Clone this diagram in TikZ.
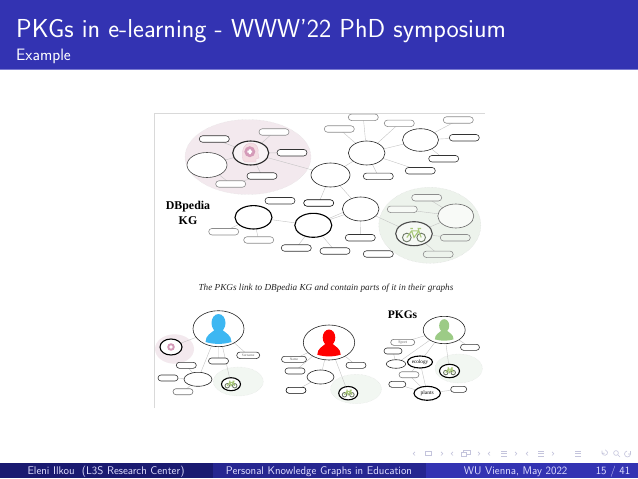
\documentclass[tikz,border=0pt]{standalone}
\usetikzlibrary{shapes.misc,shapes.geometric}
\usepackage{fontspec}
\setmainfont{Liberation Serif}
\setsansfont{Latin Modern Sans}
\definecolor{hdr}{HTML}{3333B2}
\definecolor{hdrl}{HTML}{7A7AD0}
\definecolor{ftl}{HTML}{1A1A70}
\definecolor{ftm}{HTML}{262690}
\definecolor{pinkbg}{HTML}{F3E9EE}
\definecolor{greenbg}{HTML}{EDF3EC}
\definecolor{edgegr}{HTML}{C4C4C4}
\definecolor{navc}{HTML}{C4C4DC}
\definecolor{bikew}{HTML}{6F7A68}
\definecolor{bikef}{HTML}{A8C878}
\definecolor{ublue}{HTML}{3DB7F2}
\definecolor{ugreen}{HTML}{9CCB86}
\definecolor{iconp}{HTML}{D49AB8}
\definecolor{iconh}{HTML}{F4DDE2}
\tikzset{
 x=1pt,y=-1pt,
 pill/.style={rounded rectangle,draw=black!80,line width=.6pt,fill=white,minimum width=30pt,minimum height=6.5pt,inner sep=0pt},
 pilll/.style={pill,draw=black!45},
 spill/.style={pill,minimum width=20pt,minimum height=6pt},
 ell/.style={ellipse,draw=black!85,line width=.6pt,fill=white,inner sep=0pt},
 ellb/.style={ell,draw=black,line width=1.1pt},
 edg/.style={draw=edgegr,line width=.4pt},
 hd/.style={font=\sffamily,text=white,anchor=base west,inner sep=0pt},
 ft/.style={font=\sffamily\fontsize{11.1}{13}\selectfont,text=white!88!blue,anchor=base,inner sep=0pt},
 navi/.style={draw=navc,line width=.6pt,fill=none}
}
\newcommand{\bike}[3]{\begin{scope}[shift={(#1,#2)},scale=#3]
 \draw[bikew,line width=.9pt] (-6,2.5) circle (3.6); \draw[bikew,line width=.9pt] (6,2.5) circle (3.6);
 \draw[bikef,line width=1.1pt] (-6,2.5)--(-2,-3)--(4,-3)--(6,2.5) (-2,-3)--(0,2.5)--(4,-3) (-3,-5)--(-1,-5) (4,-3)--(3.5,-5)--(6,-5);
\end{scope}}
\newcommand{\person}[5]{\begin{scope}[shift={(#1,#2)},xscale=#3,yscale=#4]
 \fill[#5] (0,-6) ellipse (7 and 9);
 \fill[#5] (-13,13) .. controls (-13,6) and (-7,4) .. (-4,1) -- (4,1) .. controls (7,4) and (13,6) .. (13,13) .. controls (5,15.5) and (-5,15.5) .. (-13,13) -- cycle;
\end{scope}}
\begin{document}
\begin{tikzpicture}
\useasboundingbox (0,0) rectangle (638,479);
\fill[white] (0,0) rectangle (638,479);
% header
\fill[hdr] (0,0) rectangle (638,68.5);
\fill[hdrl] (0,68.5) rectangle (638,69.5);
\node[hd,font=\sffamily\fontsize{26}{28}\selectfont] (title) at (16,37) {PKGs in e-learning - WWW'22 PhD symposium};
\node[hd,font=\sffamily\fontsize{16.5}{18}\selectfont] (sub) at (16,60) {Example};
% figure frame
\draw[black!15,line width=.6pt] (154,408) -- (154,113) -- (485,113);
% backgrounds
\node[ellipse,fill=pinkbg,draw=black!12,densely dotted,minimum width=126pt,minimum height=75pt,inner sep=0pt] (pinkA) at (248,157) {};
\node[ellipse,fill=greenbg,draw=black!15,densely dotted,minimum width=102pt,minimum height=76pt,inner sep=0pt] (greenA) at (429.8,225.3) {};
\node[ellipse,fill=pinkbg,minimum width=39pt,minimum height=29.4pt,inner sep=0pt] (pinkB) at (174.5,349) {};
\node[ellipse,fill=greenbg!70!white,draw=black!12,densely dotted,minimum width=50pt,minimum height=29pt,inner sep=0pt] (greenB) at (238.3,381.5) {};
\node[ellipse,fill=greenbg!70!white,draw=black!12,densely dotted,minimum width=51pt,minimum height=29.4pt,inner sep=0pt] (greenC) at (356,389) {};
\node[ellipse,fill=greenbg!70!white,draw=black!12,densely dotted,minimum width=47.4pt,minimum height=29pt,inner sep=0pt] (greenD) at (458.7,368.5) {};
% coordinates of nodes (upper graph)
\coordinate (Ca) at (250.7,153); \coordinate (Cb) at (207,165);
\coordinate (Cc) at (330.5,175); \coordinate (Cd) at (366.7,153);
\coordinate (Ce) at (420.5,140); \coordinate (Cf) at (360.7,209);
\coordinate (Cg) at (253.5,217.3); \coordinate (Ch) at (313.3,225.3);
\coordinate (Ci) at (455.8,216); \coordinate (Cj) at (414,233.7);
% upper-graph edges
\path[edg] (Ca)--(214.3,139) (Ca)--(274,132) (Ca)--(292,152.7) (Ca)--(262,176) (Ca)--(Cb) (Ca)--(Cc)
 (262,176)--(230.7,184) (Cb)--(230.7,184)
 (Cc)--(Cd) (Cc)--(Cf) (Cd)--(363.3,117.3) (Cd)--(399.3,123.3) (Cd)--(339.3,129) (Cd)--(Ce) (Cd)--(420.3,170.7) (Cd)--(378.3,176.3)
 (Ce)--(458.3,120) (Ce)--(464.3,137.7) (Ce)--(443.7,158.7)
 (Cf)--(Ch) (Cf)--(360.3,237.7) (Cf)--(Cj) (318.7,203)--(Cc)
 (Cg)--(Ch) (Cg)--(223.7,231.7) (Cg)--(258.7,240) (Ch)--(296.3,248) (Ch)--(335,251) (Ch)--(360,205)
 (Ci)--(426.7,197.7) (Ci)--(402.3,209.3) (Ci)--(Cj) (Cj)--(455.3,237.7) (Cj)--(438.2,254.3);
% upper-graph nodes
\node[ellb,minimum width=36pt,minimum height=24pt,draw=black!85,fill=pinkbg!50!white] (a) at (Ca) {};
\fill[iconh,draw=iconp!60!white,line width=.3pt] (243,160) .. controls (241,150) and (244,143) .. (250.7,143) .. controls (257,143) and (259,149) .. (258,153) -- (259,158) -- (256,159) -- (256,162) -- (245,162) -- cycle;
\fill[iconp] (249.8,151.7) circle (5.5);
\fill[white] (248.8,149.3) rectangle (250.8,154.1) (247.4,150.7) rectangle (252.2,152.7);
\node[ell,minimum width=40pt,minimum height=25pt,draw=black!70] (b) at (Cb) {};
\node[pill] (p1) at (214.3,139) {};
\node[pilll] (p2) at (274,132) {};
\node[pill] (p3) at (292,152.7) {};
\node[pill] (p4) at (262,176) {};
\node[pilll] (p5) at (230.7,184) {};
\node[ell,minimum width=39pt,minimum height=24pt] (c) at (Cc) {};
\node[pill] (p6) at (280,200.7) {};
\node[pill,draw=black] (p7) at (318.7,203) {};
\node[ellb,minimum width=37pt,minimum height=23.4pt] (g) at (Cg) {};
\node[ellb,minimum width=37pt,minimum height=24pt] (h) at (Ch) {};
\node[pilll] (p8) at (223.7,231.7) {};
\node[pilll] (p9) at (258.7,240) {};
\node[pill] (p10) at (296.3,248) {};
\node[pill] (p11) at (335,251) {};
\node[pilll] (p12) at (363.3,117.3) {};
\node[pilll] (p13) at (399.3,123.3) {};
\node[pilll] (p14) at (339.3,129) {};
\node[pilll] (p15) at (458.3,120) {};
\node[pill] (p16) at (464.3,137.7) {};
\node[ell,minimum width=36pt,minimum height=22.6pt] (e) at (Ce) {};
\node[ell,minimum width=36.6pt,minimum height=24pt] (d) at (Cd) {};
\node[pill] (p17) at (443.7,158.7) {};
\node[pill] (p18) at (420.3,170.7) {};
\node[pill] (p19) at (378.3,176.3) {};
\node[ell,minimum width=36.6pt,minimum height=24pt] (f) at (Cf) {};
\node[pilll,fill=greenbg!50!white] (p20) at (426.7,197.7) {};
\node[pilll,fill=greenbg!50!white] (p21) at (402.3,209.3) {};
\node[ell,draw=black!60,fill=greenbg!40!white,minimum width=36pt,minimum height=24pt] (i) at (Ci) {};
\node[ell,draw=black!70,line width=1.1pt,fill=greenbg!50!white,minimum width=36.6pt,minimum height=24pt] (j) at (Cj) {};
\bike{414}{234.5}{1.2}
\node[pilll,fill=greenbg] (p22) at (455.3,237.7) {};
\node[pilll,fill=greenbg] (p23) at (438.2,254.3) {};
\node[pill] (p24) at (360.3,237.7) {};
\node[pill] (p25) at (378.3,254) {};
% texts
\node[font=\bfseries\fontsize{11.9}{15}\selectfont,align=center,inner sep=0pt] (dbp) at (188,212.5) {DBpedia\\KG};
\node[font=\itshape\fontsize{9.2}{11}\selectfont,inner sep=0pt,text=black!85] (cap) at (326,288.5) {The PKGs link to DBpedia KG and contain parts of it in their graphs};
\node[font=\bfseries\fontsize{11.5}{13}\selectfont,inner sep=0pt] (pk) at (402.5,315) {PKGs};
% PKG 1
\coordinate (U1) at (218.5,328.7); \coordinate (W1) at (198,379.3); \coordinate (K1) at (171,347); \coordinate (B1) at (231,384.2);
\path[edg] (U1)--(248.2,355.3) (U1)--(218.5,361) (U1)--(W1) (U1)--(B1) (U1)--(K1)
 (W1)--(186.3,365.3) (W1)--(168,378) (W1)--(183,391.7);
\node[ell,minimum width=51pt,minimum height=36pt] (u1) at (U1) {};
\person{218.5}{329}{1}{1}{ublue}
\node[ellb,minimum width=22pt,minimum height=16pt] (k1) at (K1) {};
\fill[iconp] (K1) circle (3.8); \fill[white] (K1) circle (1.8);
\node[pill,minimum width=23pt,minimum height=6.5pt,font=\fontsize{3.5}{4}\selectfont,text=black!60] (q1) at (248.2,355.3) {Surname};
\node[spill] (q2) at (218.5,361) {};
\node[spill] (q3) at (186.3,365.3) {};
\node[spill] (q4) at (168,378) {};
\node[ell,minimum width=28pt,minimum height=14pt] (w1) at (W1) {};
\node[spill,draw=black!55] (q5) at (183,391.7) {};
\node[ellb,minimum width=19pt,minimum height=13pt] (b1) at (B1) {};
\bike{231}{384.2}{.62}
% PKG 2
\coordinate (U2) at (329,342.5); \coordinate (W2) at (320.5,377); \coordinate (B2) at (348.2,393.2);
\path[edg] (U2)--(294,359.3) (U2)--(295,371) (U2)--(W2) (U2)--(356,365.3) (U2)--(B2) (W2)--(296,390.3);
\node[ell,minimum width=51.4pt,minimum height=35pt] (u2) at (U2) {};
\person{329}{343}{.9}{.9}{red}
\node[spill,minimum width=25pt,font=\fontsize{3.5}{4}\selectfont,text=black!60] (r1) at (294,359.3) {Name};
\node[spill] (r2) at (295,371) {};
\node[spill,draw=black] (r3) at (296,390.3) {};
\node[ell,minimum width=27pt,minimum height=14pt] (w2) at (W2) {};
\node[spill] (r4) at (356,365.3) {};
\node[ellb,minimum width=19pt,minimum height=13.4pt] (b2) at (B2) {};
\bike{348.2}{393.2}{.62}
% PKG 3
\coordinate (U3) at (444.2,330); \coordinate (W3) at (396,364); \coordinate (E3) at (420,362); \coordinate (P3) at (427.2,393.3); \coordinate (B3) at (449.5,371);
\path[edg] (U3)--(402.7,342.3) (U3)--(W3) (U3)--(E3) (U3)--(470,347.3) (U3)--(B3) (W3)--(393,351)
 (E3)--(409,374.7) (E3)--(P3) (P3)--(397.3,384.3) (P3)--(458.7,389.3) (P3)--(409,374.7);
\node[ell,minimum width=42pt,minimum height=27.4pt] (u3) at (U3) {};
\person{444.2}{330}{.72}{.72}{ugreen}
\node[spill,minimum width=24pt,draw=black!55,font=\fontsize{4}{5}\selectfont,text=black!60] (s1) at (402.7,342.3) {Sport};
\node[spill,minimum width=18pt] (s2) at (393,351) {};
\node[spill,minimum width=19pt] (s3) at (470,347.3) {};
\node[ell,minimum width=19.4pt,minimum height=8.6pt] (w3) at (W3) {};
\node[ellb,minimum width=25pt,minimum height=12pt,font=\fontsize{5.2}{6}\selectfont] (e3) at (E3) {ecology};
\node[ellb,minimum width=20pt,minimum height=13.4pt] (b3) at (B3) {};
\bike{449.5}{371}{.62}
\node[spill,draw=black!50] (s4) at (409,374.7) {};
\node[spill,minimum width=17pt] (s5) at (397.3,384.3) {};
\node[ellb,minimum width=26.4pt,minimum height=14pt,font=\fontsize{5.5}{6}\selectfont] (p3n) at (P3) {plants};
\node[spill,minimum width=16pt] (s6) at (458.7,389.3) {};
% nav symbols
\begin{scope}[navi]
\draw (425.5,451.6) rectangle (431,455.6);
\draw (461,452) rectangle (466,456.5) (463,452)--(463,450)--(470,450)--(470,454.5)--(466,454.5);
\foreach \x/\d in {415/-1,441/1,453/-1,478/1,490/-1,515/1,528/-1,552/1}{\draw (\x,451.9)--(\x+\d*1.8,453.7)--(\x,455.5);}
\foreach \x in {504,541,578}{\draw (\x-3,451)--(\x+3,451) (\x-3,453.5)--(\x+3,453.5) (\x-3,456)--(\x+3,456);}
\draw (602,453) arc (170:-80:2.8) (602,450.5)--(602,453.2)--(604.5,453.2);
\draw (616,453) circle (2.4) (617.8,454.8)--(620,457);
\draw (630.5,454) arc (0:260:3) (630.5,451)--(630.5,454)--(628,454);
\end{scope}
% footer
\fill[ftl] (0,463.3) rectangle (212.5,477.5);
\fill[ftm] (212.5,463.3) rectangle (425.5,477.5);
\fill[hdr] (425.5,463.3) rectangle (638,477.5);
\node[ft] (f1) at (106,474) {Eleni Ilkou\ \ (L3S Research Center)};
\node[ft] (f2) at (319,474) {Personal Knowledge Graphs in Education};
\node[ft] (f3) at (515.7,474) {WU Vienna, May 2022};
\node[ft] (f4) at (613,474) {15 / 41};
\end{tikzpicture}
\end{document}
